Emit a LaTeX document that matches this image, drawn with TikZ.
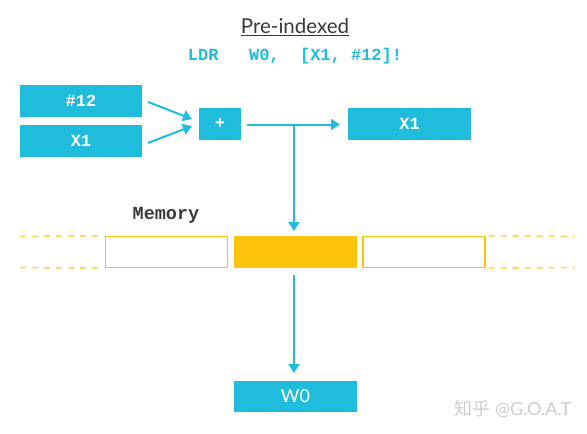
\documentclass[tikz,border=0pt]{standalone}
\usepackage{fontspec}
\setmainfont{Lato}
\setmonofont{Liberation Mono}
\newfontfamily\cjk{Noto Sans CJK SC}
\usetikzlibrary{arrows.meta}
\definecolor{cy}{HTML}{1FBCDB}
\definecolor{yl}{HTML}{FFC30B}
\definecolor{tg}{HTML}{3A3A3A}
\tikzset{
  monofont/.style={font=\ttfamily\bfseries\fontsize{17}{17}\selectfont},
  reg/.style={fill=cy, draw=none, minimum width=#1, minimum height=32pt, inner sep=0pt, monofont, text=white},
  conn/.style={draw=cy, line width=2pt, -{Triangle[length=9pt,width=11pt]}},
  memcell/.style={draw=yl, line width=1.4pt, minimum width=122pt, minimum height=31pt, inner sep=0pt},
  dashline/.style={draw=yl!70, line width=1.6pt, dash pattern=on 6pt off 6pt},
}
\begin{document}
\begin{tikzpicture}[x=1pt,y=-1pt]
\useasboundingbox (0,0) rectangle (587,434);
\node[font=\fontsize{20.5}{20.5}\selectfont, text=tg] (title) at (295,27) {\underline{Pre-indexed}};
\node[monofont, text=cy] (code) at (295,56) {LDR\ \ \ W0,\ \ [X1,\ \#12]!};
\node[reg=122pt] (imm) at (81,101) {\#12};
\node[reg=122pt] (xa) at (81,141) {X1};
\node[reg=42pt] (plus) at (220,124) {+};
\node[reg=123pt] (xb) at (409.5,123.5) {X1};
\coordinate (ia) at (148,102);
\coordinate (ta) at (192,119);
\coordinate (xo) at (148,143);
\coordinate (tb) at (192,126);
\coordinate (ps) at (247,124.5);
\coordinate (tx) at (340,124.5);
\coordinate (j) at (294,124.5);
\coordinate (tm) at (294,231);
\coordinate (mb) at (294,275);
\coordinate (tw) at (294,373);
\draw[conn] (ia) -- (ta);
\draw[conn] (xo) -- (tb);
\draw[conn] (ps) -- (tx);
\node[monofont, text=tg, font=\ttfamily\bfseries\fontsize{18.5}{18.5}\selectfont] (mem) at (166,215) {Memory};
\node[memcell] (m1) at (166.5,252) {};
\node[memcell, fill=yl] (m2) at (295.5,252) {};
\node[memcell] (m3) at (424,252) {};
\draw[conn] (j) -- (tm);
\coordinate (dl1) at (20,236.5); \coordinate (dl2) at (20,267.5);
\coordinate (dr1) at (575,236.5); \coordinate (dr2) at (575,267.5);
\draw[dashline] (dl1) -- ([xshift=-3pt]m1.north west);
\draw[dashline] (dl2) -- ([xshift=-3pt]m1.south west);
\draw[dashline] ([xshift=3pt]m3.north east) -- (dr1);
\draw[dashline] ([xshift=3pt]m3.south east) -- (dr2);
\node[fill=cy, minimum width=123pt, minimum height=31pt, inner sep=0pt, text=white, font=\fontsize{18}{18}\selectfont] (w0) at (295.5,396.5) {W0};
\draw[conn] (mb) -- (tw);
\node[text=gray!40, font=\fontsize{18}{18}\selectfont, anchor=west] (wm) at (451,409) {{\cjk 知乎} @G.O.A.T};
\end{tikzpicture}
\end{document}
